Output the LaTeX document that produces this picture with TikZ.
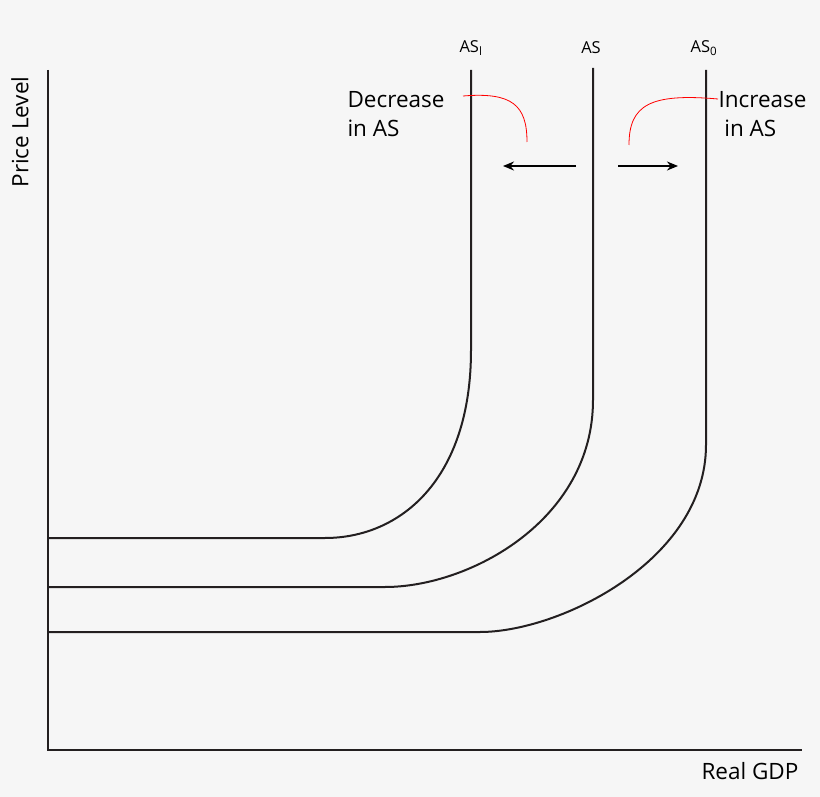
\documentclass[tikz,border=0pt]{standalone}
\usepackage{fontspec}
\setmainfont{Open Sans}
\usetikzlibrary{arrows.meta}
\begin{document}
\begin{tikzpicture}[x=1pt,y=-1pt,
  curve/.style={line width=2pt,draw={rgb,255:red,35;green,31;blue,32}},
  lab/.style={font=\fontsize{16.5}{18}\selectfont},
  big/.style={font=\fontsize{22.5}{29}\selectfont,align=left},
  redc/.style={red,line width=0.8pt},
  arr/.style={line width=2pt,-{Stealth[length=11pt,width=9pt]}}]
\fill[fill={rgb,255:red,246;green,246;blue,246}] (0,0) rectangle (820,797);
\useasboundingbox (0,0) rectangle (820,797);
\coordinate (o) at (48,750);
\coordinate (ytop) at (48,70);
\coordinate (xend) at (802,750);
\draw[curve] (ytop) -- (o) -- (xend);
\draw[curve] (471,70) -- (471,350) .. controls (471,480) and (400,538) .. (325,538) -- (48,538);
\draw[curve] (593,68) -- (593,400) .. controls (593,520) and (470,587) .. (385,587) -- (48,587);
\draw[curve] (706,70) -- (706,445) .. controls (706,560) and (560,632) .. (480,632) -- (48,632);
\node[lab] (as1) at (471,48) {AS\textsubscript{l}};
\node[lab] (as) at (591,48) {AS};
\node[lab] (as0) at (704,48) {AS\textsubscript{0}};
\node[big,anchor=west] (dec) at (344,114) {Decrease\\in AS};
\node[big,anchor=west] (inc) at (715,114) {Increase\\\ in AS};
\draw[redc] (463,96) .. controls (512,92) and (527,105) .. (527,142);
\draw[redc] (629,145) .. controls (629,105) and (650,93) .. (718,99);
\coordinate (a1) at (576,166); \coordinate (a2) at (503,166);
\coordinate (b1) at (618,166); \coordinate (b2) at (678,166);
\draw[arr] (a1) -- (a2);
\draw[arr] (b1) -- (b2);
\node[big,rotate=90] (pl) at (20,132) {Price Level};
\node[big] (gdp) at (750,771) {Real GDP};
\end{tikzpicture}
\end{document}
